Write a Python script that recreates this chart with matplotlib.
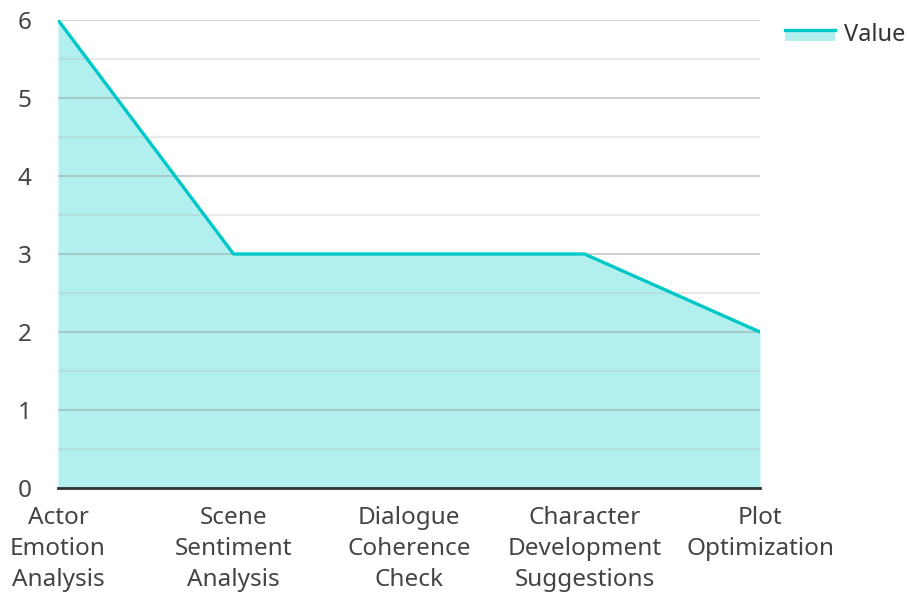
import matplotlib
matplotlib.use('Agg')
import matplotlib.pyplot as plt
from matplotlib.legend_handler import HandlerBase
from matplotlib.patches import Rectangle
from matplotlib.lines import Line2D

plt.rcParams['font.family'] = ['Noto Sans', 'DejaVu Sans']

# Data
categories = ['Actor\nEmotion\nAnalysis', 'Scene\nSentiment\nAnalysis', 'Dialogue\nCoherence\nCheck',
              'Character\nDevelopment\nSuggestions', 'Plot\nOptimization']
values = [6, 3, 3, 3, 2]
series_name = 'Value'

line_color = '#00c8c8'
fill_color = '#b2f0ef'


class AreaHandler(HandlerBase):
    # legend key: filled box with the line along its top edge
    def create_artists(self, legend, orig_handle, xdescent, ydescent, width, height, fontsize, trans):
        h = height * 0.75
        y0 = -ydescent + height * 0.0
        rect = Rectangle((-xdescent, y0), width, h, facecolor=fill_color, edgecolor='none', transform=trans)
        ln = Line2D([-xdescent, -xdescent + width], [y0 + h * 0.88] * 2, color=line_color, lw=2.4, transform=trans)
        return [rect, ln]


fig = plt.figure(figsize=(9.09, 5.96), dpi=100)
ax = fig.add_axes([58 / 909, 1 - 488 / 596, (760 - 58) / 909, (488 - 20) / 596])

x = list(range(len(categories)))
ax.fill_between(x, values, 0, color=fill_color, lw=0, zorder=1)
ax.plot(x, values, color=line_color, lw=2.4, zorder=3, solid_capstyle='round')

ax.set_xlim(0, len(categories) - 1)
ax.set_ylim(0, 6)
ax.set_yticks(range(0, 7))
ax.set_yticks([i + 0.5 for i in range(6)], minor=True)
ax.grid(True, which='major', axis='y', color='#999999', alpha=0.5, lw=1.3, zorder=2)
ax.grid(True, which='minor', axis='y', color='#bbbbbb', alpha=0.35, lw=1.3, zorder=2)
ax.set_axisbelow(False)

ax.set_xticks(x)
ax.set_xticklabels(categories, linespacing=1.4)
ax.tick_params(axis='both', which='both', length=0, labelsize=17.5, colors='#444444')
ax.tick_params(axis='x', pad=13)
ax.tick_params(axis='y', pad=19)

for s in ['top', 'right', 'left']:
    ax.spines[s].set_visible(False)
ax.spines['bottom'].set_color('#333333')
ax.spines['bottom'].set_linewidth(2)
ax.spines['bottom'].set_zorder(4)

proxy = Rectangle((0, 0), 1, 1)
fig.legend([proxy], [series_name], handler_map={Rectangle: AreaHandler()},
           loc='upper left', bbox_to_anchor=(785 / 909, 1 - 23 / 596), frameon=False,
           borderpad=0, borderaxespad=0,
           fontsize=17, handlelength=2.1, handletextpad=0.4, labelcolor='#333333')

fig.savefig('out.png', dpi=100)
